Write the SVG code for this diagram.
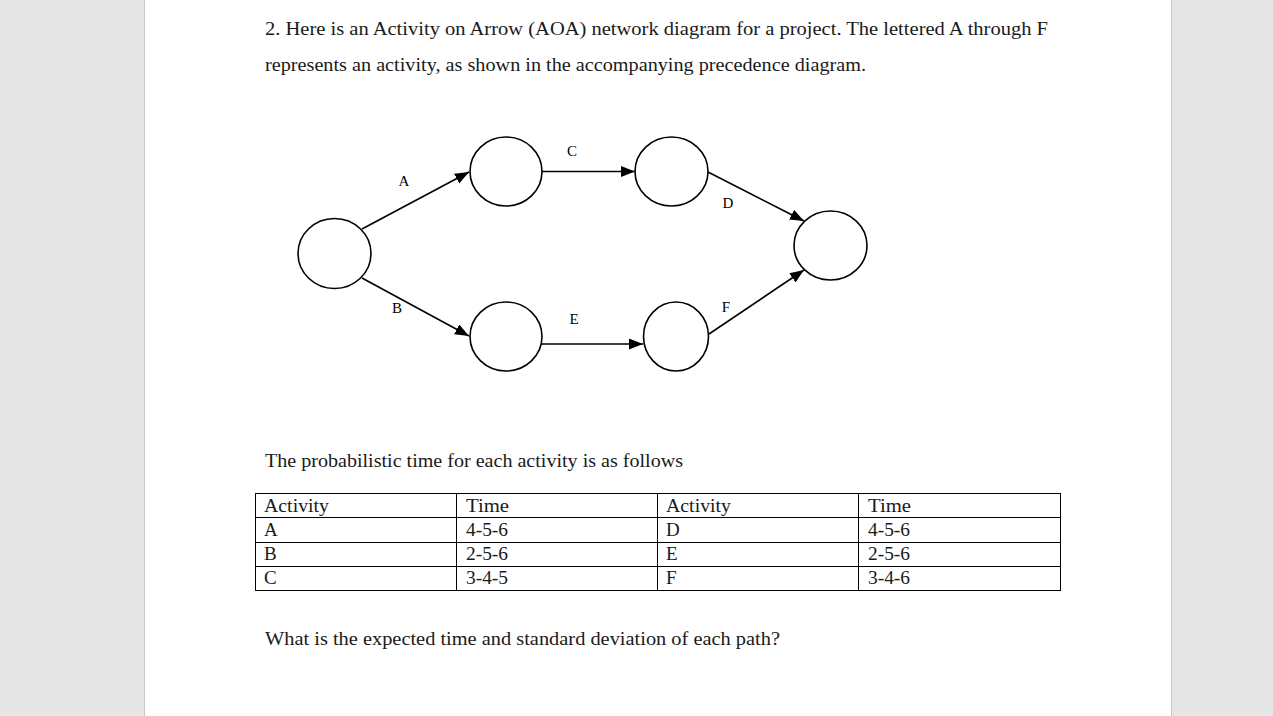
<svg xmlns="http://www.w3.org/2000/svg" width="1273" height="716" viewBox="0 0 1273 716">
<style>
.txt{font-family:"Liberation Serif",serif;fill:#1a1a1a;font-size:19px}
.lbl{font-family:"Liberation Serif",serif;fill:#000;font-size:15px;text-anchor:middle}
.cell{font-family:"Liberation Serif",serif;fill:#1a1a1a;font-size:19px}
.node{fill:#fff;stroke:#000;stroke-width:1.6}
.edge{stroke:#000;stroke-width:1.6;fill:none;marker-end:url(#ah)}
.grid{stroke:#000;stroke-width:1;fill:none}
</style>
<defs>
<marker id="ah" markerUnits="userSpaceOnUse" markerWidth="15" markerHeight="12" refX="14" refY="5.5" orient="auto">
<path d="M0,0 L14,5.5 L0,11 Z" fill="#000"/>
</marker>
</defs>
<rect x="0" y="0" width="1273" height="716" fill="#e6e6e6"/>
<rect x="144.5" y="-1" width="1027" height="720" fill="#fff" stroke="#c6c6c6" stroke-width="1"/>
<text class="txt" x="265" y="35" textLength="783" lengthAdjust="spacingAndGlyphs">2. Here is an Activity on Arrow (AOA) network diagram for a project. The lettered A through F</text>
<text class="txt" x="265" y="71" textLength="601" lengthAdjust="spacingAndGlyphs">represents an activity, as shown in the accompanying precedence diagram.</text>
<g id="connectors">
<line class="edge" x1="362" y1="229" x2="469" y2="172"/>
<line class="edge" x1="362" y1="278" x2="469" y2="336"/>
<line class="edge" x1="542" y1="171.5" x2="635" y2="171.5"/>
<line class="edge" x1="542" y1="344" x2="643" y2="344"/>
<line class="edge" x1="708" y1="172" x2="804" y2="221"/>
<line class="edge" x1="709" y1="334" x2="804" y2="270"/>
<text class="lbl" x="404" y="186">A</text>
<text class="lbl" x="397" y="313">B</text>
<text class="lbl" x="572" y="156">C</text>
<text class="lbl" x="728" y="208">D</text>
<text class="lbl" x="574" y="324">E</text>
<text class="lbl" x="726" y="312">F</text>
</g>
<g id="n1"><ellipse class="node" cx="334.5" cy="253.5" rx="36.5" ry="35"/></g>
<g id="n2"><ellipse class="node" cx="506" cy="171.5" rx="36" ry="34.5"/></g>
<g id="n3"><ellipse class="node" cx="671.5" cy="171.5" rx="36.5" ry="34.5"/></g>
<g id="n4"><ellipse class="node" cx="830.5" cy="245.5" rx="36.5" ry="34.5"/></g>
<g id="n5"><ellipse class="node" cx="506" cy="336.5" rx="36" ry="34.5"/></g>
<g id="n6"><ellipse class="node" cx="676" cy="336.5" rx="32.5" ry="34.5"/></g>
<text class="txt" x="265" y="467" textLength="418" lengthAdjust="spacingAndGlyphs">The probabilistic time for each activity is as follows</text>
<g id="table">
<rect class="grid" x="255.5" y="493.5" width="805" height="97"/>
<line class="grid" x1="255.5" y1="517.5" x2="1060.5" y2="517.5"/>
<line class="grid" x1="255.5" y1="542.5" x2="1060.5" y2="542.5"/>
<line class="grid" x1="255.5" y1="566.5" x2="1060.5" y2="566.5"/>
<line class="grid" x1="456.5" y1="493.5" x2="456.5" y2="590.5"/>
<line class="grid" x1="657.5" y1="493.5" x2="657.5" y2="590.5"/>
<line class="grid" x1="858.5" y1="493.5" x2="858.5" y2="590.5"/>
<text class="cell" x="264" y="512" textLength="65" lengthAdjust="spacingAndGlyphs">Activity</text>
<text class="cell" x="466" y="512" textLength="43" lengthAdjust="spacingAndGlyphs">Time</text>
<text class="cell" x="666" y="512" textLength="65" lengthAdjust="spacingAndGlyphs">Activity</text>
<text class="cell" x="868" y="512" textLength="43" lengthAdjust="spacingAndGlyphs">Time</text>
<text class="cell" x="264" y="536">A</text>
<text class="cell" x="466" y="536" textLength="42" lengthAdjust="spacingAndGlyphs">4-5-6</text>
<text class="cell" x="666" y="536">D</text>
<text class="cell" x="868" y="536" textLength="42" lengthAdjust="spacingAndGlyphs">4-5-6</text>
<text class="cell" x="264" y="560">B</text>
<text class="cell" x="466" y="560" textLength="42" lengthAdjust="spacingAndGlyphs">2-5-6</text>
<text class="cell" x="666" y="560">E</text>
<text class="cell" x="868" y="560" textLength="42" lengthAdjust="spacingAndGlyphs">2-5-6</text>
<text class="cell" x="264" y="584">C</text>
<text class="cell" x="466" y="584" textLength="42" lengthAdjust="spacingAndGlyphs">3-4-5</text>
<text class="cell" x="666" y="584">F</text>
<text class="cell" x="868" y="584" textLength="42" lengthAdjust="spacingAndGlyphs">3-4-6</text>
</g>
<text class="txt" x="265" y="645" textLength="515" lengthAdjust="spacingAndGlyphs">What is the expected time and standard deviation of each path?</text>
</svg>
